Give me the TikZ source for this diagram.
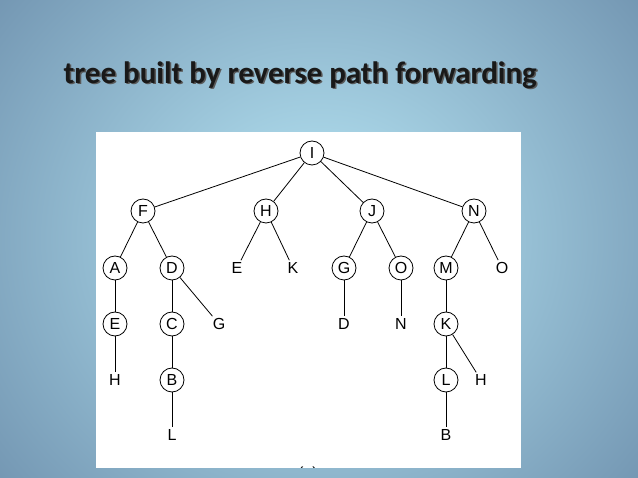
\documentclass[tikz,border=0pt]{standalone}
\usepackage{fontspec}
\setmainfont{Liberation Sans}
\newfontfamily\titlefont{Carlito}
\begin{document}
\begin{tikzpicture}[x=1pt,y=-1pt,
  cn/.style={circle,draw,fill=white,line width=0.8pt,minimum size=24pt,inner sep=0pt,font=\fontsize{16}{16}\selectfont},
  tn/.style={inner sep=2pt,font=\fontsize{16}{16}\selectfont},
  ed/.style={line width=0.8pt}]
\useasboundingbox (0,0) rectangle (638,478);
\shade[shading=radial,outer color={rgb,255:red,115;green,150;blue,178},inner color={rgb,255:red,185;green,232;blue,246}] (-100,-150) rectangle (738,628);
\node[anchor=west,text=gray!70!black,font=\titlefont\bfseries\fontsize{31}{31}\selectfont] at (61.5,76.5) {tree built by reverse path forwarding};
\node[anchor=west,text=black!90,font=\titlefont\bfseries\fontsize{31}{31}\selectfont] (title) at (60,75) {tree built by reverse path forwarding};
\begin{scope}
\clip (96,132) rectangle (521,468);
\fill[white] (96,132) rectangle (521,468);
\node[cn] (I) at (312,153) {I};
\node[cn] (F) at (143,211) {F};
\node[cn] (H) at (266,211) {H};
\node[cn] (J) at (372,211) {J};
\node[cn] (N) at (474,211) {N};
\node[cn] (A) at (115,268) {A};
\node[cn] (D) at (172,268) {D};
\node[tn] (tE) at (237,268) {E};
\node[tn] (tK) at (293,268) {K};
\node[cn] (G) at (344,268) {G};
\node[cn] (O) at (401,268) {O};
\node[cn] (M) at (446,268) {M};
\node[tn] (tO) at (502,268) {O};
\node[cn] (E) at (115,324) {E};
\node[cn] (C) at (172,324) {C};
\node[tn] (tG) at (219,324) {G};
\node[tn] (tD) at (344,324) {D};
\node[tn] (tN) at (401,324) {N};
\node[cn] (K) at (446,324) {K};
\node[tn] (tH) at (115,380) {H};
\node[cn] (B) at (172,380) {B};
\node[cn] (L) at (446,380) {L};
\node[tn] (tH2) at (481,380) {H};
\node[tn] (tL) at (172,435) {L};
\node[tn] (tB) at (446,435) {B};
\node[tn] (cap) at (308,474) {(a)};
\draw[ed] (I)--(F); \draw[ed] (I)--(H); \draw[ed] (I)--(J); \draw[ed] (I)--(N);
\draw[ed] (F)--(A); \draw[ed] (F)--(D); \draw[ed] (H)--(tE); \draw[ed] (H)--(tK);
\draw[ed] (J)--(G); \draw[ed] (J)--(O); \draw[ed] (N)--(M); \draw[ed] (N)--(tO);
\draw[ed] (A)--(E); \draw[ed] (D)--(C); \draw[ed] (D)--(tG); \draw[ed] (G)--(tD);
\draw[ed] (O)--(tN); \draw[ed] (M)--(K); \draw[ed] (E)--(tH); \draw[ed] (C)--(B);
\draw[ed] (K)--(L); \draw[ed] (K)--(tH2); \draw[ed] (B)--(tL); \draw[ed] (L)--(tB);
\end{scope}
\end{tikzpicture}
\end{document}
